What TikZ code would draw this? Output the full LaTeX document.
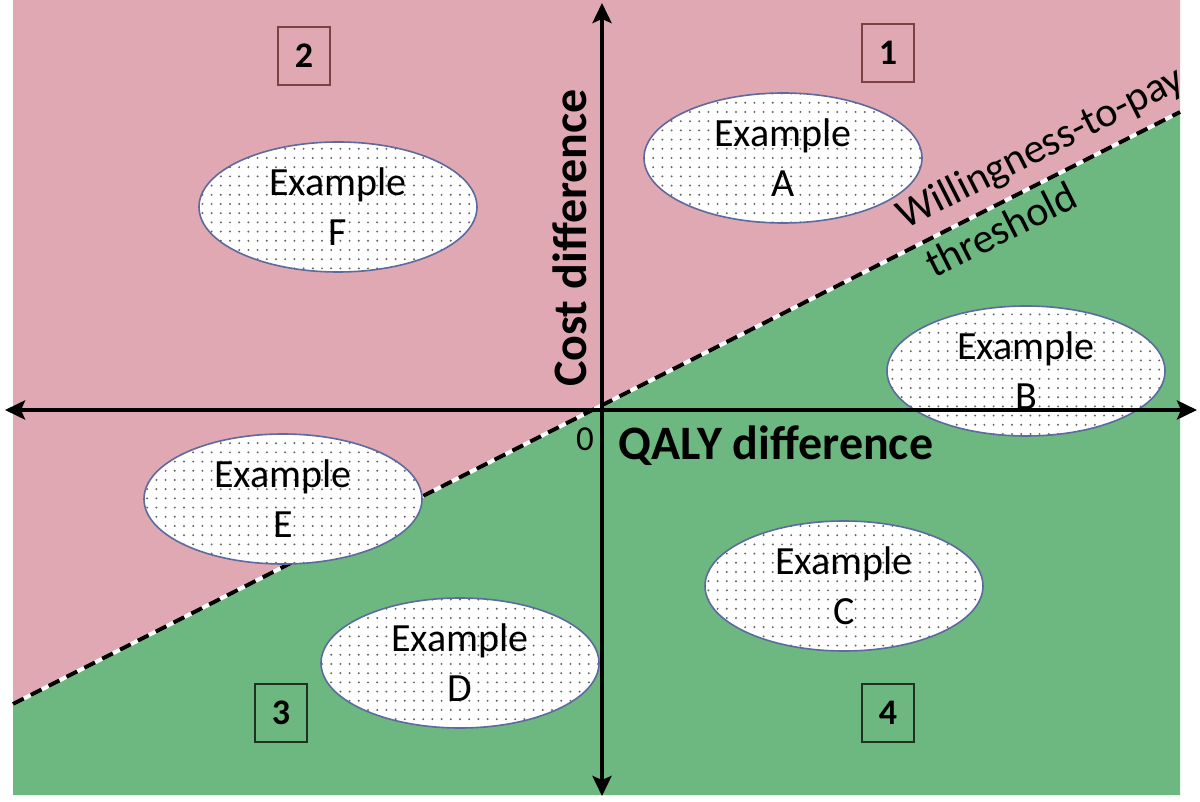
\documentclass[tikz,border=0pt]{standalone}
\usepackage{fontspec}
\setmainfont{Carlito}
\usetikzlibrary{arrows.meta,patterns.meta,shapes.geometric}
\definecolor{pinkbg}{RGB}{223,168,179}
\definecolor{greenbg}{RGB}{108,184,128}
\definecolor{ellborder}{RGB}{92,106,158}
\definecolor{redbox}{RGB}{125,65,65}
\definecolor{greenbox}{RGB}{30,50,35}
\begin{document}
\begin{tikzpicture}[x=0.5pt,y=-0.5pt,
  example/.style={ellipse, draw=ellborder, line width=0.8pt,
    minimum width=139pt, minimum height=65pt, inner sep=0pt, align=center,
    font=\fontsize{20}{25}\selectfont,
    preaction={fill=white},
    pattern={Dots[distance=4.6pt,radius=0.55pt]}, pattern color=black!60},
  numbox/.style={draw, line width=0.6pt, minimum width=26pt, minimum height=29pt,
    inner sep=0pt, font=\bfseries\fontsize{18}{20}\selectfont},
  axis/.style={line width=2pt, {Stealth[length=10pt,width=9.5pt,inset=2pt]}-{Stealth[length=10pt,width=9.5pt,inset=2pt]}},
  axislabel/.style={font=\bfseries\fontsize{24}{28}\selectfont, inner sep=0pt},
  wtp/.style={font=\fontsize{21}{25}\selectfont, inner sep=0pt, rotate=26.8, anchor=base west}
]
\useasboundingbox (0,0) rectangle (1200,802);
\clip (0,0) rectangle (1200,802);
% background regions
\coordinate (W1) at (13,704);
\coordinate (W2) at (1180,112);
\fill[white] (0,0) rectangle (1200,802);
\fill[pinkbg] (13,0) -- (1180,0) -- (W2) -- (W1) -- cycle;
\fill[greenbg] (W1) -- (W2) -- (1180,795) -- (13,795) -- cycle;
% threshold line
\draw[white, line width=2pt] (W1) -- (W2);
\draw[black, line width=2pt, dash pattern=on 6pt off 4pt] (W1) -- (W2);
% ellipses
\node[example] (A) at (783,158) {Example\\A};
\node[example] (F) at (338,207) {Example\\F};
\node[example] (B) at (1026,371) {Example\\B};
\node[example] (E) at (283,499) {Example\\E};
\node[example] (D) at (460,663) {Example\\D};
\node[example] (C) at (844,586) {Example\\C};
% quadrant boxes
\node[numbox, draw=redbox] (q1) at (888,53) {1};
\node[numbox, draw=redbox] (q2) at (304,56) {2};
\node[numbox, draw=greenbox] (q3) at (281,713) {3};
\node[numbox, draw=greenbox] (q4) at (888,713) {4};
% axes
\coordinate (XL) at (5,410);
\coordinate (XR) at (1197,410);
\coordinate (YT) at (602,3);
\coordinate (YB) at (602,796);
\draw[axis] (XL) -- (XR);
\draw[axis] (YB) -- (YT);
% labels
\node[axislabel, rotate=90] (ylab) at (570,238) {Cost difference};
\node[axislabel] (xlab) at (776,446) {QALY difference};
\node[font=\fontsize{17.5}{20}\selectfont, inner sep=0pt] (zero) at (585,439) {0};
\node[wtp] (wtp1) at (905,230) {Willingness-to-pay};
\node[wtp] (wtp2) at (934,279) {threshold};
\end{tikzpicture}
\end{document}
